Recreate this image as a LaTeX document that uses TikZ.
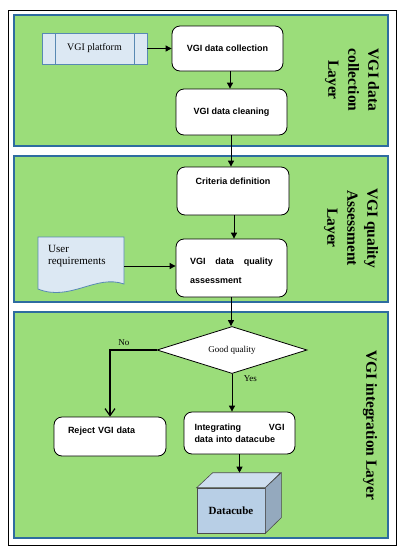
\documentclass[tikz,border=0pt]{standalone}
\usepackage{fontspec}
\setmainfont{Liberation Serif}
\setsansfont{Liberation Sans}
\usetikzlibrary{positioning,arrows.meta,calc,shapes.geometric}
\definecolor{LayerGreen}{RGB}{155,221,122}
\definecolor{LayerBlue}{RGB}{46,108,160}
\definecolor{PaleBlue}{RGB}{220,232,243}
\definecolor{CubeFront}{RGB}{184,207,230}
\definecolor{CubeTop}{RGB}{206,222,239}
\definecolor{CubeSide}{RGB}{148,169,190}

\begin{document}
\begin{tikzpicture}[x=1pt, y=-1pt, every node/.style={align=center}]
\tikzset{
  layer/.style={draw=LayerBlue, line width=1.3pt, fill=LayerGreen},
  layername/.style={rotate=-90, font=\bfseries\fontsize{15.5}{20}\selectfont},
  box/.style={draw, line width=0.8pt, rounded corners=8pt, fill=white, font=\sffamily\bfseries\fontsize{9}{12}\selectfont},
  source/.style={draw=LayerBlue!80, line width=0.8pt, fill=PaleBlue, font=\fontsize{10}{12}\selectfont},
  arr/.style={-{Triangle[length=6pt,width=6pt]}, line width=0.9pt},
  openarr/.style={-{Straight Barb[length=7pt,width=10pt]}, line width=1.2pt}
}
  \useasboundingbox (0,0) rectangle (401,550);
  \draw[line width=1pt] (8,10) rectangle (396,545);

  % layers
  \draw[layer] (14,15) rectangle (388,146);
  \draw[layer] (14,156) rectangle (388,302);
  \draw[layer] (14,312) rectangle (388,538);
  \node[layername] (collectlayer) at (352,80) {VGI data\\collection\\Layer};
  \node[layername] (assesslayer) at (351,228) {VGI quality\\Assessment\\Layer};
  \node[layername] (integlayer) at (370,425) {VGI integration Layer};

  % collection layer
  \node[source, minimum width=105pt, minimum height=31pt, text depth=4pt,
    path picture={
      \draw ([xshift=13pt]path picture bounding box.north west) -- ([xshift=13pt]path picture bounding box.south west);
      \draw ([xshift=-13pt]path picture bounding box.north east) -- ([xshift=-13pt]path picture bounding box.south east);
    }] (platform) at (94.5,48.5) {VGI platform};
  \node[box, minimum width=111pt, minimum height=45pt] (collect) at (227.5,48.5) {VGI data collection};
  \node[box, minimum width=111pt, minimum height=46pt] (clean) at (231.5,112) {VGI data cleaning};
  \draw[arr] (platform) -- (collect);
  \draw[arr] (collect.south -| 230,0) -- (clean.north -| 230,0);

  % assessment layer
  \node[box, minimum width=112pt, minimum height=48pt, text depth=20pt] (criteria) at (233,191) {Criteria definition};
  \node[box, minimum width=111pt, minimum height=58pt, text width=83pt, align=left, text height=13pt,
    font=\sffamily\bfseries\fontsize{9}{19}\selectfont] (assess) at (231.5,268) {VGI\hfill data\hfill quality\\assessment};
  \draw[source] (38,237) -- (124,237) -- (124,284)
    .. controls (96,274) and (70,302) .. (38,289) -- cycle;
  \node[anchor=north west, align=left, inner sep=0pt, font=\fontsize{11}{12.5}\selectfont] (user) at (48,245) {User\\requirements};
  \coordinate (userout) at (124,266);
  \draw[arr] (clean.south -| 231,0) -- (criteria.north -| 231,0);
  \draw[arr] (criteria.south -| 234,0) -- (assess.north -| 234,0);
  \draw[arr] (userout) -- (userout -| assess.west);

  % integration layer
  \node[diamond, draw, line width=0.8pt, fill=white, inner sep=0pt, aspect=3.2,
    minimum width=150pt, minimum height=47pt, font=\fontsize{9}{11}\selectfont] (good) at (232,350) {Good quality};
  \node[box, minimum width=112pt, minimum height=39pt, text width=84pt, align=left, text depth=12pt] (reject) at (110,436.5) {Reject VGI data};
  \node[box, minimum width=111pt, minimum height=42pt, text width=90pt, align=left] (integ) at (239.5,433) {Integrating\hfill VGI\\data into datacube};
  \draw[arr] (assess.south -| 231,0) -- (good.north -| 231,0);
  \draw[openarr] (good.west) -| node[pos=0.35, above, font=\fontsize{9}{11}\selectfont] (no) {No} (reject.north);
  \draw[arr] (good.south) -- node[pos=0.12, right=8pt, font=\fontsize{9}{11}\selectfont] (yes) {Yes} (good.south |- integ.north);

  % datacube
  \node[draw=black!70, line width=0.6pt, fill=CubeFront, minimum width=68pt, minimum height=45pt,
    font=\bfseries\fontsize{11}{13}\selectfont] (cube) at (231,510.5) {Datacube};
  \draw[draw=black!70, line width=0.6pt, fill=CubeTop] (cube.north west) -- ++(16,-15) -- ++(68,0) -- (cube.north east) -- cycle;
  \draw[draw=black!70, line width=0.6pt, fill=CubeSide] (cube.north east) -- ++(16,-15) -- ++(0,45) -- (cube.south east) -- cycle;
  \coordinate (cubeback) at ([yshift=15pt]cube.north);
  \draw[arr] (integ.south) -- (integ.south |- cubeback);
\end{tikzpicture}
\end{document}
